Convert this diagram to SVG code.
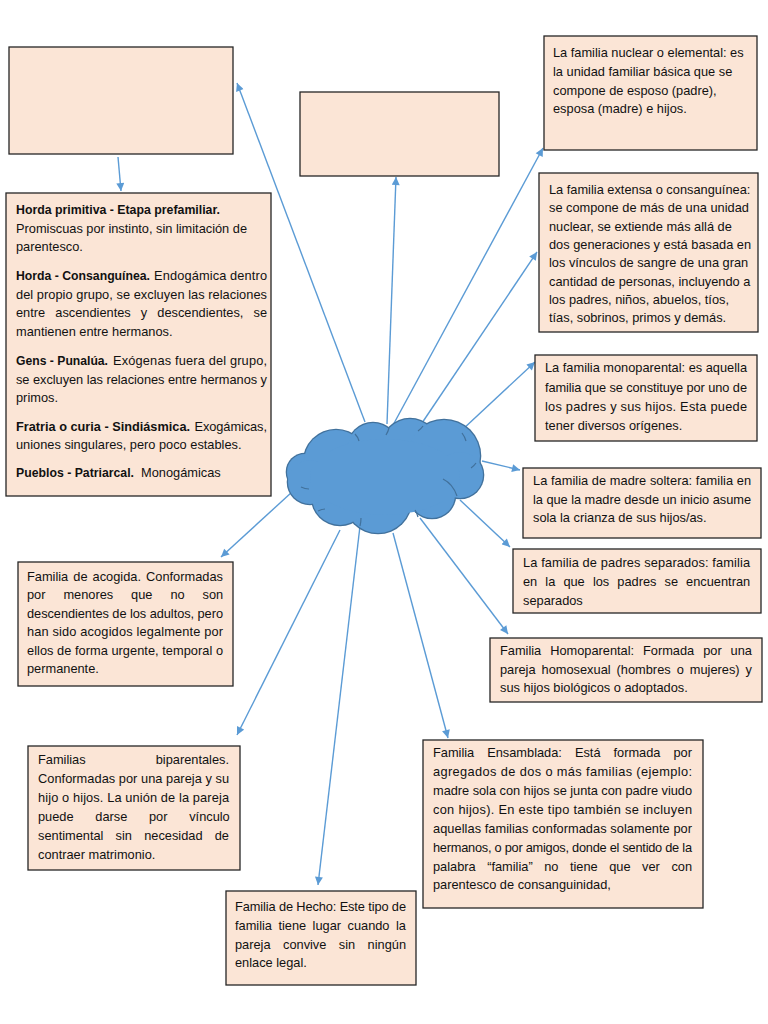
<svg xmlns="http://www.w3.org/2000/svg" width="768" height="1024" viewBox="0 0 768 1024">
<style>
.box{fill:#FBE5D6;stroke:#262626;stroke-width:1.3}
text{font-family:"Liberation Sans",Arial,sans-serif;font-size:12.8px;fill:#111}
.b{font-weight:bold}
.c{stroke:#5B9BD5;stroke-width:1.4;fill:none;marker-end:url(#ah)}
.cs{fill:#41719C}
.cf{fill:#5B9BD5}
.ia{fill:none;stroke:#41719C;stroke-width:1.2}
</style>
<defs>
<marker id="ah" markerUnits="userSpaceOnUse" viewBox="0 0 10 10" refX="10" refY="5" markerWidth="9" markerHeight="8" orient="auto">
<path d="M0,0 L10,5 L0,10 z" fill="#5B9BD5"/>
</marker>
</defs>
<rect width="768" height="1024" fill="#ffffff"/>

<g id="connectors">
<line class="c" x1="365" y1="422" x2="237" y2="83"/>
<line class="c" x1="118" y1="157" x2="121" y2="191"/>
<line class="c" x1="387" y1="424" x2="396" y2="177"/>
<line class="c" x1="392" y1="427" x2="543" y2="148"/>
<line class="c" x1="422" y1="423" x2="537" y2="252"/>
<line class="c" x1="462" y1="430" x2="535" y2="362"/>
<line class="c" x1="482" y1="461" x2="520" y2="470"/>
<line class="c" x1="460" y1="500" x2="510" y2="547"/>
<line class="c" x1="420" y1="518" x2="508" y2="634"/>
<line class="c" x1="393" y1="533" x2="448" y2="738"/>
<line class="c" x1="360" y1="526" x2="318" y2="885"/>
<line class="c" x1="340" y1="530" x2="237" y2="735"/>
<line class="c" x1="292" y1="492" x2="221" y2="557"/>
</g>

<g id="cloud">
<g class="cs">
<circle cx="305" cy="472" r="19.3"/><circle cx="336" cy="462" r="33.3"/><circle cx="373" cy="448" r="26.3"/>
<circle cx="410" cy="447" r="29.3"/><circle cx="444" cy="456" r="37.3"/><circle cx="460" cy="475" r="24.3"/>
<circle cx="432" cy="495" r="24.3"/><circle cx="378" cy="500" r="34.3"/><circle cx="340" cy="497" r="29.3"/>
<circle cx="310" cy="482" r="23.3"/>
</g>
<g class="cf">
<circle cx="305" cy="472" r="18"/><circle cx="336" cy="462" r="32"/><circle cx="373" cy="448" r="25"/>
<circle cx="410" cy="447" r="28"/><circle cx="444" cy="456" r="36"/><circle cx="460" cy="475" r="23"/>
<circle cx="432" cy="495" r="23"/><circle cx="378" cy="500" r="33"/><circle cx="340" cy="497" r="28"/>
<circle cx="310" cy="482" r="22"/>
<ellipse cx="385" cy="477" rx="75" ry="38"/>
</g>
<path class="ia" d="M355,434 Q358,437 359,441"/>
<path class="ia" d="M389,428 Q388,432 386,435"/>
<path class="ia" d="M423,426 Q421,429 418,431"/>
<path class="ia" d="M462,433 Q465,437 466,441"/>
<path class="ia" d="M476,463 Q474,466 471,468"/>
<path class="ia" d="M443,479 Q453,484 457,496"/>
<path class="ia" d="M418,517 Q417,513 415,510"/>
<path class="ia" d="M360,526 Q361,522 361,518"/>
<path class="ia" d="M318,511 Q322,509 325,509"/>
<path class="ia" d="M301,487 Q305,489 309,489"/>
</g>

<g id="box-empty-left"><rect class="box" x="9" y="47" width="224" height="107"/></g>
<g id="box-empty-center"><rect class="box" x="300" y="92" width="199" height="84"/></g>

<g id="box-horda">
<rect class="box" x="6" y="193" width="265" height="303"/>
<text class="b" x="16" y="214" textLength="204" lengthAdjust="spacingAndGlyphs">Horda primitiva - Etapa prefamiliar.</text>
<text x="16" y="233" textLength="231">Promiscuas por instinto, sin limitación de</text>
<text x="16" y="251">parentesco.</text>
<text class="b" x="16" y="280" textLength="134" lengthAdjust="spacingAndGlyphs">Horda - Consanguínea.</text>
<text x="154" y="280" textLength="113">Endogámica dentro</text>
<text x="16" y="299" textLength="251">del propio grupo, se excluyen las relaciones</text>
<text y="317"><tspan x="16">entre</tspan><tspan x="55.3">ascendientes</tspan><tspan x="140.8">y</tspan><tspan x="157.3">descendientes,</tspan><tspan x="253.5">se</tspan></text>
<text x="16" y="336">mantienen entre hermanos.</text>
<text class="b" x="16" y="365" textLength="92" lengthAdjust="spacingAndGlyphs">Gens - Punalúa.</text>
<text x="113" y="365" textLength="154">Exógenas fuera del grupo,</text>
<text x="16" y="384" textLength="251">se excluyen las relaciones entre hermanos y</text>
<text x="16" y="402">primos.</text>
<text class="b" x="16" y="431" textLength="174" lengthAdjust="spacingAndGlyphs">Fratria o curia - Sindiásmica.</text>
<text x="194.5" y="431" textLength="72.5">Exogámicas,</text>
<text x="16" y="449">uniones singulares, pero poco estables.</text>
<text class="b" x="16" y="477" textLength="118" lengthAdjust="spacingAndGlyphs">Pueblos - Patriarcal.</text>
<text x="141" y="477">Monogámicas</text>
</g>

<g id="box-nuclear">
<rect class="box" x="544" y="36" width="213" height="114"/>
<text x="553" y="57">La familia nuclear o elemental: es</text>
<text x="553" y="76">la unidad familiar básica que se</text>
<text x="553" y="95">compone de esposo (padre),</text>
<text x="553" y="113">esposa (madre) e hijos.</text>
</g>

<g id="box-extensa">
<rect class="box" x="539" y="173" width="219" height="159"/>
<text x="549" y="194">La familia extensa o consanguínea:</text>
<text x="549" y="212.3">se compone de más de una unidad</text>
<text x="549" y="230.6">nuclear, se extiende más allá de</text>
<text x="549" y="248.9">dos generaciones y está basada en</text>
<text x="549" y="267.2">los vínculos de sangre de una gran</text>
<text x="549" y="285.5">cantidad de personas, incluyendo a</text>
<text x="549" y="303.8">los padres, niños, abuelos, tíos,</text>
<text x="549" y="322.1">tías, sobrinos, primos y demás.</text>
</g>

<g id="box-monoparental">
<rect class="box" x="535" y="355" width="222" height="86"/>
<text x="545" y="372" textLength="202">La familia monoparental: es aquella</text>
<text x="545" y="392" textLength="202">familia que se constituye por uno de</text>
<text x="545" y="411" textLength="202">los padres y sus hijos. Esta puede</text>
<text x="545" y="430">tener diversos orígenes.</text>
</g>

<g id="box-madre-soltera">
<rect class="box" x="523" y="468" width="238" height="70"/>
<text x="533" y="485" textLength="218">La familia de madre soltera: familia en</text>
<text x="533" y="504" textLength="218">la que la madre desde un inicio asume</text>
<text x="533" y="522">sola la crianza de sus hijos/as.</text>
</g>

<g id="box-padres-separados">
<rect class="box" x="513" y="549" width="248" height="64"/>
<text x="523" y="567" textLength="227">La familia de padres separados: familia</text>
<text y="586"><tspan x="523">en</tspan><tspan x="545.3">la</tspan><tspan x="563.4">que</tspan><tspan x="592.9">los</tspan><tspan x="617.3">padres</tspan><tspan x="664.5">se</tspan><tspan x="686.1">encuentran</tspan></text>
<text x="523" y="605">separados</text>
</g>

<g id="box-homoparental">
<rect class="box" x="490" y="638" width="272" height="64"/>
<text y="655"><tspan x="500">Familia</tspan><tspan x="550.2">Homoparental:</tspan><tspan x="643">Formada</tspan><tspan x="703.2">por</tspan><tspan x="730.6">una</tspan></text>
<text y="674"><tspan x="500">pareja</tspan><tspan x="541.6">homosexual</tspan><tspan x="616.6">(hombres</tspan><tspan x="676.7">o</tspan><tspan x="689.8">mujeres)</tspan><tspan x="745.6">y</tspan></text>
<text x="500" y="692">sus hijos biológicos o adoptados.</text>
</g>

<g id="box-acogida">
<rect class="box" x="18" y="562" width="215" height="124"/>
<text y="581"><tspan x="27">Familia</tspan><tspan x="73.3">de</tspan><tspan x="92.6">acogida.</tspan><tspan x="146.1">Conformadas</tspan></text>
<text y="599"><tspan x="27">por</tspan><tspan x="63.4">menores</tspan><tspan x="131.1">que</tspan><tspan x="170.4">no</tspan><tspan x="202.5">son</tspan></text>
<text x="27" y="618" textLength="196">descendientes de los adultos, pero</text>
<text x="27" y="636" textLength="196">han sido acogidos legalmente por</text>
<text x="27" y="655" textLength="196">ellos de forma urgente, temporal o</text>
<text x="27" y="673">permanente.</text>
</g>

<g id="box-biparentales">
<rect class="box" x="28" y="746" width="212" height="124"/>
<text y="764"><tspan x="38">Familias</tspan><tspan x="155.7">biparentales.</tspan></text>
<text x="38" y="783" textLength="191">Conformadas por una pareja y su</text>
<text x="38" y="802" textLength="191">hijo o hijos. La unión de la pareja</text>
<text y="821"><tspan x="38">puede</tspan><tspan x="95.3">darse</tspan><tspan x="149">por</tspan><tspan x="189.2">vínculo</tspan></text>
<text y="840"><tspan x="38">sentimental</tspan><tspan x="115.6">sin</tspan><tspan x="144.2">necesidad</tspan><tspan x="214.7">de</tspan></text>
<text x="38" y="859">contraer matrimonio.</text>
</g>

<g id="box-hecho">
<rect class="box" x="226" y="891" width="190" height="94"/>
<text x="235" y="911" textLength="171">Familia de Hecho: Este tipo de</text>
<text y="930"><tspan x="235">familia</tspan><tspan x="278.4">tiene</tspan><tspan x="312.6">lugar</tspan><tspan x="347.5">cuando</tspan><tspan x="395.9">la</tspan></text>
<text y="949"><tspan x="235">pareja</tspan><tspan x="283">convive</tspan><tspan x="338.8">sin</tspan><tspan x="367.6">ningún</tspan></text>
<text x="235" y="967">enlace legal.</text>
</g>

<g id="box-ensamblada">
<rect class="box" x="423" y="740" width="280" height="168"/>
<text y="757"><tspan x="433">Familia</tspan><tspan x="487.2">Ensamblada:</tspan><tspan x="574.9">Está</tspan><tspan x="613.5">formada</tspan><tspan x="673.5">por</tspan></text>
<text x="433" y="776" textLength="259">agregados de dos o más familias (ejemplo:</text>
<text x="433" y="795" textLength="259">madre sola con hijos se junta con padre viudo</text>
<text x="433" y="814" textLength="259">con hijos). En este tipo también se incluyen</text>
<text x="433" y="833" textLength="259">aquellas familias conformadas solamente por</text>
<text x="433" y="852" textLength="259">hermanos, o por amigos, donde el sentido de la</text>
<text y="871"><tspan x="433">palabra</tspan><tspan x="487.2">“familia”</tspan><tspan x="544.2">no</tspan><tspan x="569.9">tiene</tspan><tspan x="609.2">que</tspan><tspan x="642.1">ver</tspan><tspan x="671.4">con</tspan></text>
<text x="433" y="889">parentesco de consanguinidad,</text>
</g>
</svg>
